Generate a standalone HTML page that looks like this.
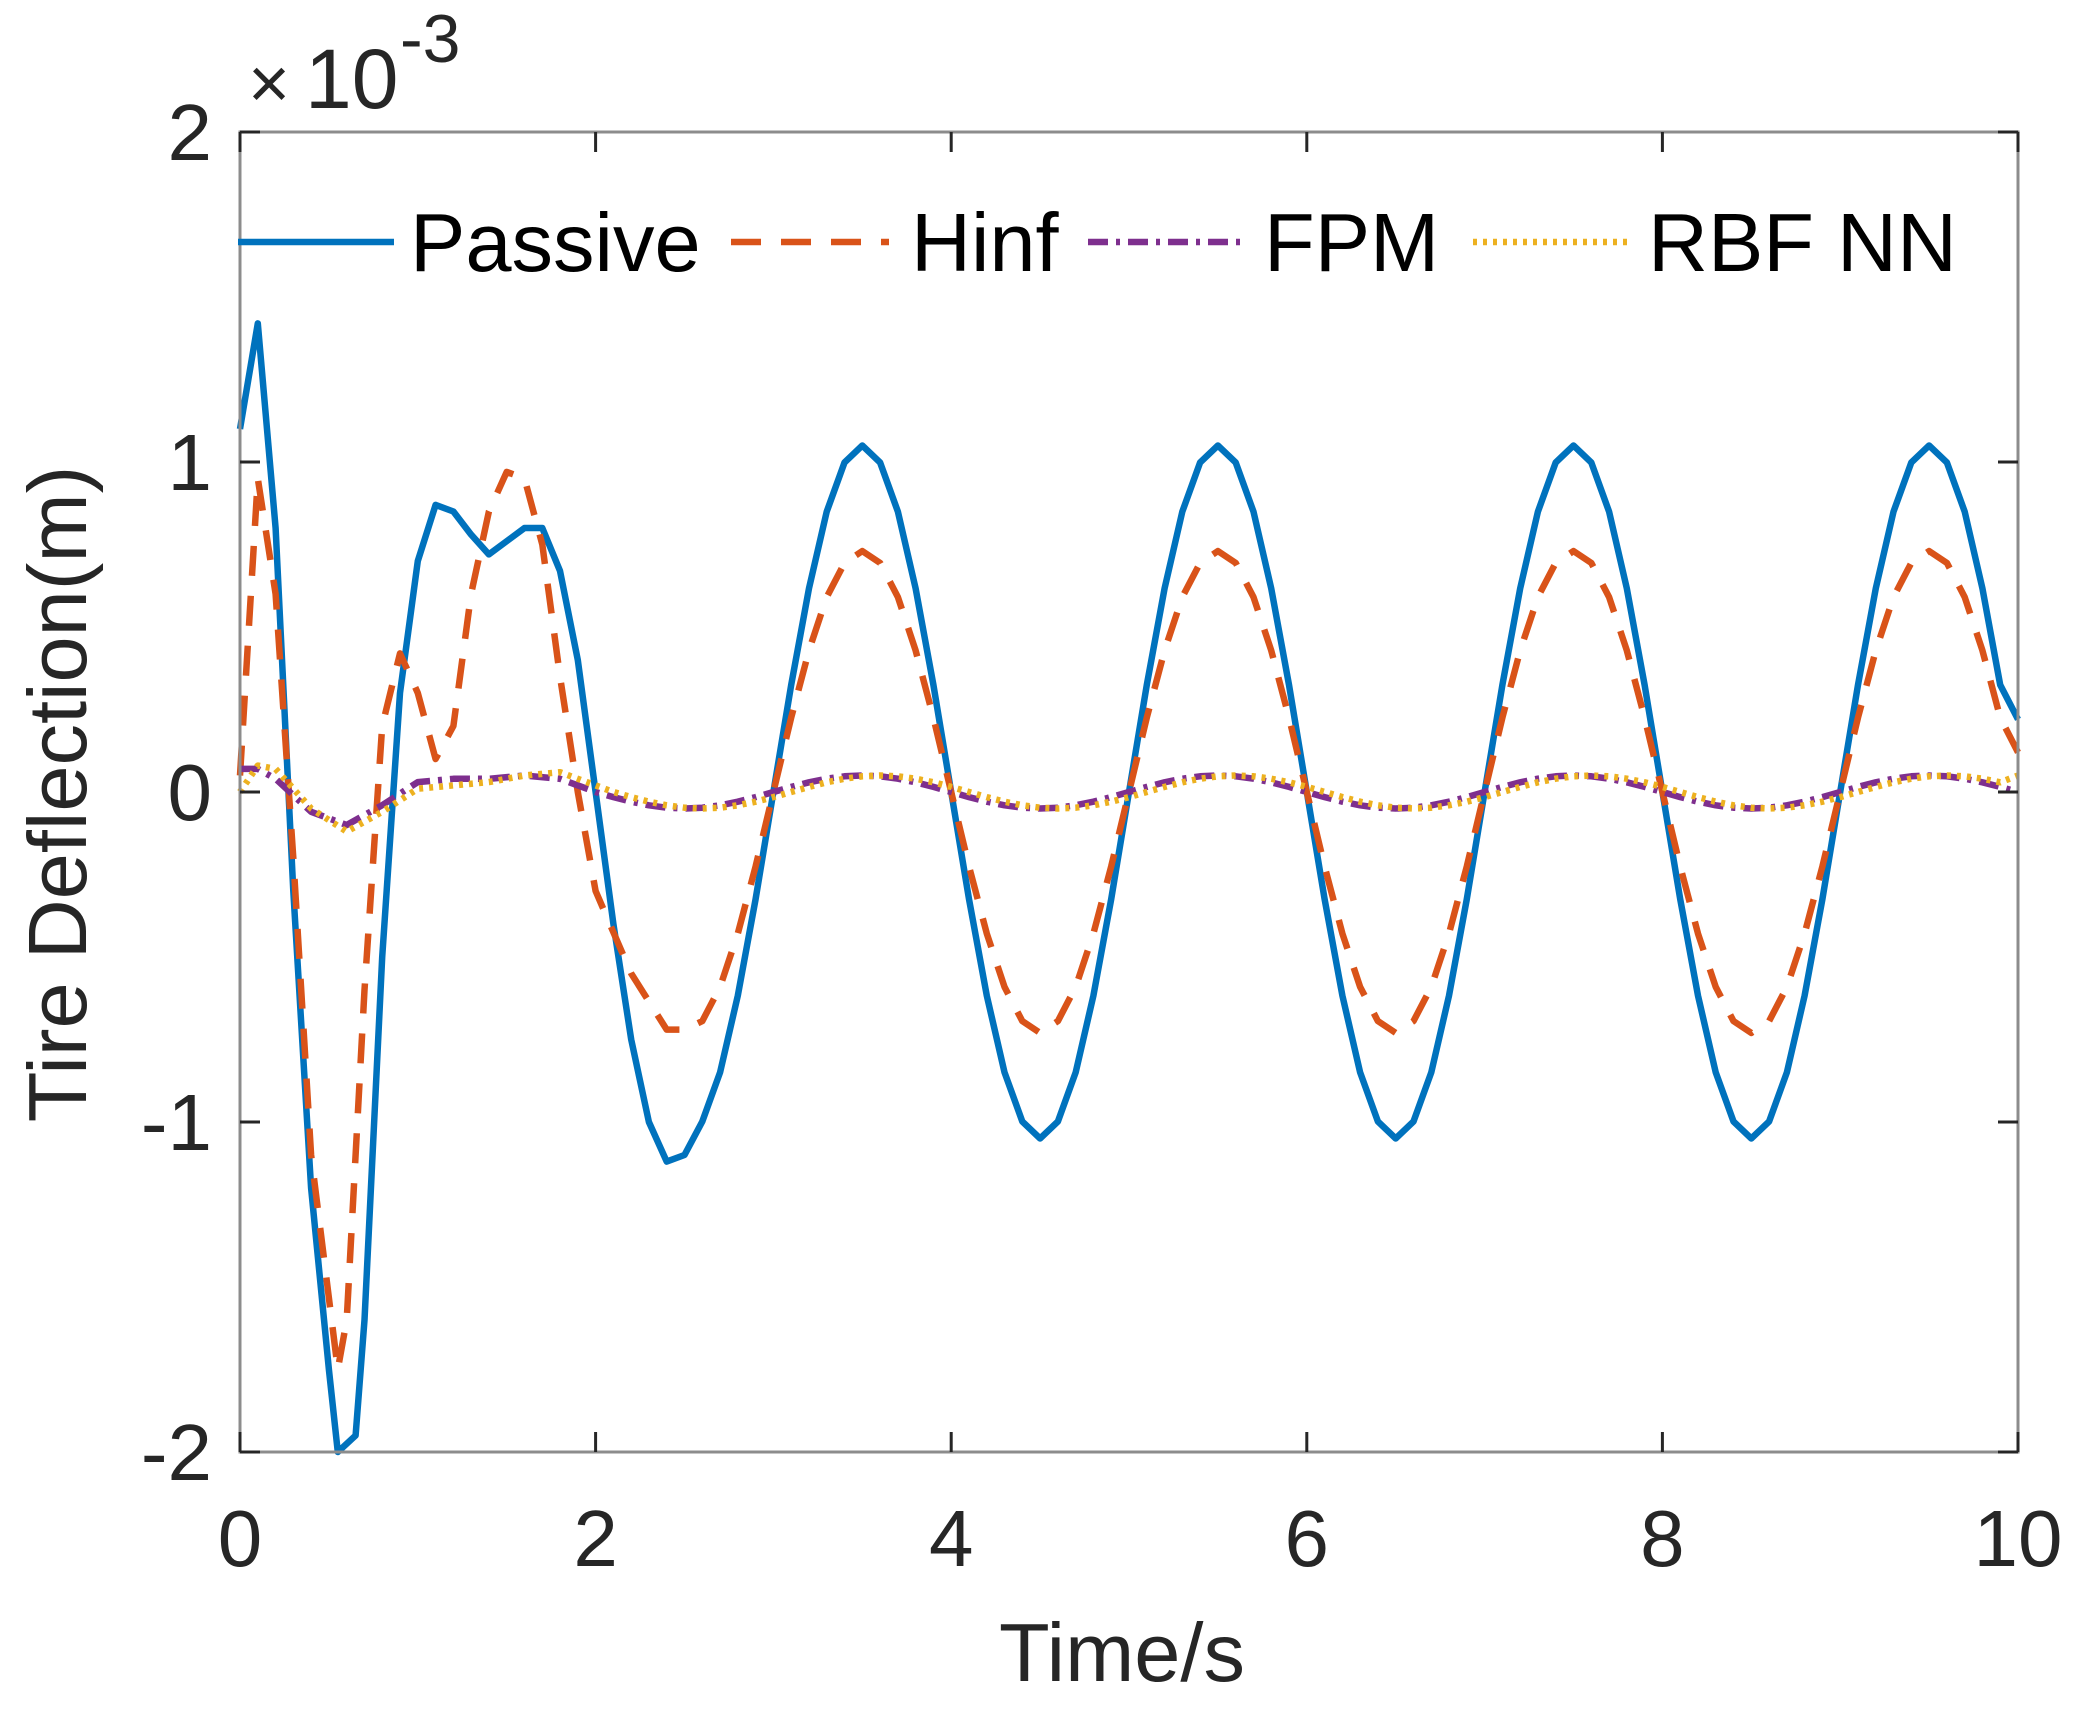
<!DOCTYPE html>
<html><head><meta charset="utf-8"><style>
html,body{margin:0;padding:0;background:#fff;}
svg{display:block;}
text{font-family:"Liberation Sans",Arial,sans-serif;fill:#262626;}
</style></head><body>
<svg id="s" width="2075" height="1718" viewBox="0 0 2075 1718" xmlns="http://www.w3.org/2000/svg">
<rect width="2075" height="1718" fill="#fff"/>
<g id="plot"></g>
<rect x="240" y="132" width="1778" height="1320" fill="none" stroke="#8c8c8c" stroke-width="3"/>
<g id="ticks" stroke="#262626" stroke-width="3"></g>
<g font-size="80" text-anchor="middle">
<text x="240" y="1566">0</text><text x="595.6" y="1566">2</text><text x="951.2" y="1566">4</text>
<text x="1306.8" y="1566">6</text><text x="1662.4" y="1566">8</text><text x="2018" y="1566">10</text>
</g>
<g font-size="80" text-anchor="end">
<text x="212" y="160">2</text><text x="212" y="490">1</text><text x="212" y="820">0</text>
<text x="212" y="1150">-1</text><text x="212" y="1480">-2</text>
</g>
<text x="248" y="108" font-size="72">×</text>
<text x="305" y="108" font-size="84">10</text>
<text x="400" y="62" font-size="68">-3</text>
<text x="1122" y="1681" font-size="83" text-anchor="middle">Time/s</text>
<text transform="translate(86,794) rotate(-90)" font-size="83" text-anchor="middle">Tire Deflection(m)</text>
<g stroke-width="6.5" fill="none">
<line x1="238" y1="242" x2="394" y2="242" stroke="#0072BD"/>
<line x1="731" y1="242" x2="889" y2="242" stroke="#D95319" stroke-dasharray="30,20"/>
<line x1="1088" y1="242" x2="1244" y2="242" stroke="#7E2F8E" stroke-dasharray="20,8,4,8"/>
<line x1="1473" y1="242" x2="1631" y2="242" stroke="#EDB120" stroke-dasharray="4,6"/>
</g>
<g font-size="83">
<text x="410" y="271" style="fill:#000">Passive</text>
<text x="911" y="271" style="fill:#000">Hinf</text>
<text x="1264" y="271" style="fill:#000">FPM</text>
<text x="1648" y="271" style="fill:#000">RBF NN</text>
</g>
</svg>
<script>
(function(){
var X=function(t){return 240+t*177.8;},Y=function(v){return 792-v*330;};
var ns="http://www.w3.org/2000/svg";
function path(pts,col,dash){
 var d=pts.map(function(p,i){return (i?"L":"M")+X(p[0]).toFixed(1)+","+Y(p[1]).toFixed(1);}).join("");
 var e=document.createElementNS(ns,"path");e.setAttribute("d",d);e.setAttribute("stroke",col);
 e.setAttribute("stroke-width","6.5");e.setAttribute("fill","none");e.setAttribute("stroke-linejoin","round");
 if(dash)e.setAttribute("stroke-dasharray",dash);
 document.getElementById("plot").appendChild(e);
}
function ext(early,start,f,last){
 var p=early.slice();
 for(var t=start;t<9.95;t+=0.1){p.push([t,f(t)]);}
 p.push([10,last]);return p;
}
var P=[[0,1.1],[0.1,1.42],[0.2,0.8],[0.3,-0.3],[0.4,-1.2],[0.5,-1.75],[0.55,-2.0],[0.65,-1.95],[0.7,-1.6],[0.8,-0.5],[0.9,0.3],[1.0,0.7],[1.1,0.87],[1.2,0.85],[1.3,0.78],[1.4,0.72],[1.5,0.76],[1.6,0.8],[1.7,0.8],[1.8,0.67],[1.9,0.4],[2.0,0.0],[2.1,-0.4],[2.2,-0.75],[2.3,-1.0],[2.4,-1.12],[2.5,-1.1]];
path(ext(P,2.6,function(t){return -1.05*Math.sin(Math.PI*(t-2));},0.22),"#0072BD");
var H=[[0,0.05],[0.1,0.95],[0.2,0.6],[0.3,-0.2],[0.4,-1.1],[0.55,-1.75],[0.6,-1.6],[0.7,-0.6],[0.8,0.2],[0.9,0.42],[1.0,0.3],[1.1,0.1],[1.2,0.2],[1.3,0.6],[1.4,0.85],[1.5,0.97],[1.6,0.95],[1.7,0.75],[1.8,0.35],[1.9,0.0],[2.0,-0.3],[2.2,-0.55],[2.4,-0.72],[2.5,-0.72]];
path(ext(H,2.6,function(t){return -0.73*Math.sin(Math.PI*(t-2));},0.12),"#D95319","30,20");
var F=[[0,0.07],[0.1,0.07],[0.2,0.04],[0.4,-0.06],[0.6,-0.1],[0.8,-0.04],[1.0,0.03],[1.2,0.04],[1.4,0.04],[1.6,0.05],[1.8,0.04],[2.0,0.0]];
path(ext(F,2.1,function(t){return -0.05*Math.sin(Math.PI*(t-2));},0.0),"#7E2F8E","20,8,4,8");
var R=[[0,0.0],[0.1,0.08],[0.2,0.07],[0.4,-0.05],[0.6,-0.12],[0.8,-0.06],[1.0,0.01],[1.2,0.02],[1.4,0.03],[1.6,0.05],[1.8,0.06],[2.0,0.02]];
path(ext(R,2.1,function(t){return -0.05*Math.sin(Math.PI*(t-2.1));},0.05),"#EDB120","4,6");
var g=document.getElementById("ticks"),s="";
for(var i=0;i<=5;i++){var x=X(2*i);s+='<line x1="'+x+'" y1="1452" x2="'+x+'" y2="1432"/><line x1="'+x+'" y1="132" x2="'+x+'" y2="152"/>';}
for(var j=-2;j<=2;j++){var y=Y(j);s+='<line x1="240" y1="'+y+'" x2="260" y2="'+y+'"/><line x1="2018" y1="'+y+'" x2="1998" y2="'+y+'"/>';}
g.innerHTML=s;
})();
</script>
</body></html>
